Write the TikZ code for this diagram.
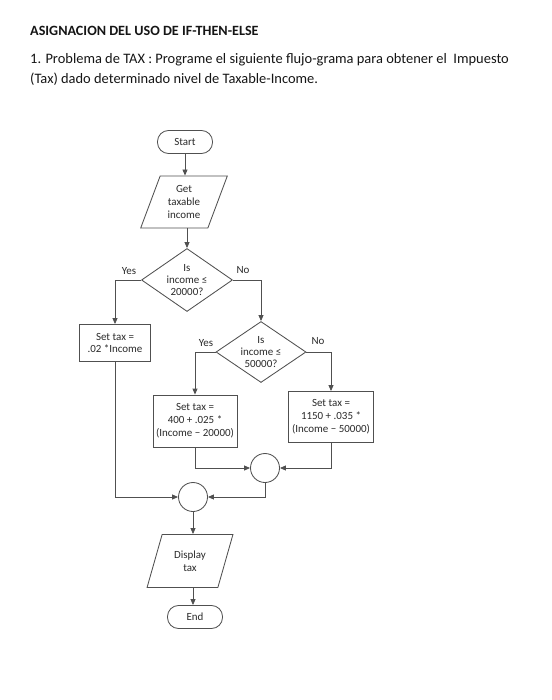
\documentclass[tikz,border=0pt]{standalone}
\usepackage{fontspec}
\setmainfont{Carlito}
\usetikzlibrary{shapes.geometric,arrows.meta}
\definecolor{linegray}{HTML}{505050}
\definecolor{textgray}{HTML}{2A2A2A}
\definecolor{headblack}{HTML}{151515}
\begin{document}
\begin{tikzpicture}[x=1bp,y=-1bp,
  flow/.style={draw=linegray, line width=0.85bp, text=textgray, font=\fontsize{11}{13}\selectfont, align=center, inner sep=1bp},
  term/.style={flow, rectangle, rounded corners=11bp, minimum width=55bp, minimum height=23bp},
  proc/.style={flow, rectangle},
  iobox/.style={flow, trapezium, trapezium left angle=68, trapezium right angle=112, trapezium stretches=true, minimum width=87bp, minimum height=52bp},
  decide/.style={flow, diamond, minimum width=91bp, minimum height=63bp, inner sep=0bp},
  joint/.style={draw=linegray, line width=0.85bp, circle, minimum size=29bp, inner sep=0bp},
  conn/.style={draw=linegray, line width=0.85bp, -{Triangle[length=6bp,width=5bp]}},
  lbl/.style={text=textgray, font=\fontsize{11}{13}\selectfont, inner sep=0bp},
  dtext/.style={text=textgray, font=\fontsize{11}{12.5}\selectfont, align=center, inner sep=0bp},
  head/.style={text=headblack, anchor=base west, inner sep=0bp, font=\fontsize{14.5}{17}\selectfont}
]
\useasboundingbox (0,0) rectangle (552,700);

\node[head, font=\fontsize{14.2}{17}\selectfont\bfseries] (title) at (30,36) {ASIGNACION DEL USO DE IF-THEN-ELSE};
\node[head] (l1) at (30,64) {1. Problema de TAX : Programe el siguiente flujo-grama para obtener el \ Impuesto};
\node[head] (l2) at (30,84) {(Tax) dado determinado nivel de Taxable-Income.};

\node[term] (start) at (185,142) {Start};
\node[iobox] (get) at (184,202) {Get\\taxable\\income};
\node[decide] (d1) at (187,280) {};
\node[dtext] (d1t) at (d1) {Is\\income ≤\\20000?};
\node[proc, minimum width=71bp, minimum height=37bp] (b1) at (115,343) {Set tax =\\.02 *Income};
\node[decide, minimum width=90bp, minimum height=61bp] (d2) at (261,352) {};
\node[dtext] (d2t) at (d2) {Is\\income ≤\\50000?};
\node[proc, minimum width=84bp, minimum height=52bp] (b3) at (195,421) {Set tax =\\400 + .025 *\\(Income − 20000)};
\node[proc, minimum width=85bp, minimum height=51bp] (b4) at (331,417) {Set tax =\\1150 + .035 *\\(Income − 50000)};
\node[joint] (c1) at (265,468) {};
\node[joint] (c2) at (193,497) {};
\node[iobox, minimum width=86bp, minimum height=53bp] (disp) at (190,561) {Display\\tax};
\node[term] (stop) at (195,617) {End};

\node[lbl] (yes1) at (129,271) {Yes};
\node[lbl] (no1) at (243,270) {No};
\node[lbl] (yes2) at (206,343) {Yes};
\node[lbl] (no2) at (318,341) {No};

\draw[conn] (start.south) -- (start.south |- get.north);
\draw[conn] (get.south -| d1.north) -- (d1.north);
\draw[conn] (d1.west) -| (b1.north);
\draw[conn] (d1.east) -| (d2.north);
\draw[conn] (d2.west) -| (b3.north);
\draw[conn] (d2.east) -| (b4.north);
\draw[conn] (b3.south) |- (c1.west);
\draw[conn] (b4.south) |- (c1.east);
\draw[conn] (b1.south) |- (c2.west);
\draw[conn] (c1.south) |- (c2.east);
\draw[conn] (c2.south) -- (c2.south |- disp.north);
\draw[conn] (c2.south |- disp.south) -- (c2.south |- stop.north);
\end{tikzpicture}
\end{document}
